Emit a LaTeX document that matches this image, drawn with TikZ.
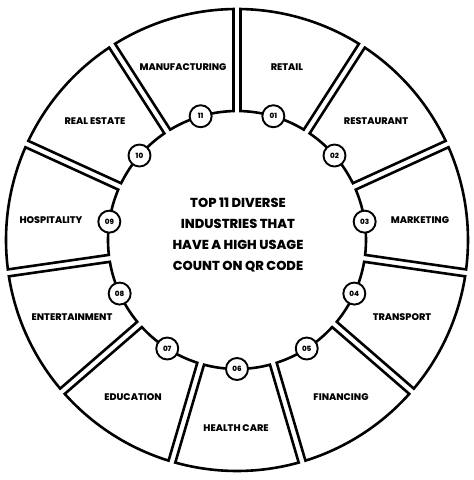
\documentclass[tikz,border=0pt]{standalone}
\usepackage{fontspec}
\setmainfont{Poppins}[BoldFont={Poppins ExtraBold}]
\begin{document}
\begin{tikzpicture}[x=1pt,y=1pt,
  seg/.style={draw=black, line width=2.6pt, line join=miter, fill=white},
  num/.style={circle, draw=black, line width=1.9pt, fill=white, minimum size=22pt, inner sep=0pt, font=\bfseries\fontsize{7.2}{8}\selectfont},
  lab/.style={font=\bfseries\fontsize{9.6}{10}\selectfont, inner sep=0pt},
  ttl/.style={font=\bfseries\fontsize{13}{21}\selectfont, align=center, inner sep=0pt}]
\useasboundingbox (-237,-240) rectangle (237,240);
\pgfmathsetmacro{\Ro}{231}
\pgfmathsetmacro{\Ri}{129}
\pgfmathsetmacro{\dO}{asin(3.5/231)}
\pgfmathsetmacro{\dI}{asin(3.5/129)}
\foreach \k in {0,...,10}{
  \pgfmathsetmacro{\sa}{90-\k*360/11-\dO}
  \pgfmathsetmacro{\sb}{90-(\k+1)*360/11+\dO}
  \pgfmathsetmacro{\sc}{90-(\k+1)*360/11+\dI}
  \pgfmathsetmacro{\sd}{90-\k*360/11-\dI}
  \draw[seg] (\sa:\Ro) arc[start angle=\sa, end angle=\sb, radius=\Ro] -- (\sc:\Ri) arc[start angle=\sc, end angle=\sd, radius=\Ri] -- cycle;
}
\foreach \k/\t in {0/01,1/02,2/03,3/04,4/05,5/06,6/07,7/08,8/09,9/10,10/11}{
  \node[num] (n\t) at ({90-(\k+0.5)*360/11}:\Ri) {\t};
}
\node[lab] (retail) at (50,173) {RETAIL};
\node[lab] (restaurant) at (139,119) {RESTAURANT};
\node[lab] (marketing) at (183,20) {MARKETING};
\node[lab] (transport) at (165,-77) {TRANSPORT};
\node[lab] (financing) at (104,-157) {FINANCING};
\node[lab] (health) at (-1,-188) {HEALTH CARE};
\node[lab] (education) at (-104,-157) {EDUCATION};
\node[lab] (entertainment) at (-165,-77) {ENTERTAINMENT};
\node[lab] (hospitality) at (-186,20) {HOSPITALITY};
\node[lab] (realestate) at (-142,119) {REAL ESTATE};
\node[lab] (manufacturing) at (-54,173) {MANUFACTURING};
\node[ttl] (title) at (1,5) {TOP 11 DIVERSE\\INDUSTRIES THAT\\HAVE A HIGH USAGE\\COUNT ON QR CODE};
\end{tikzpicture}
\end{document}
